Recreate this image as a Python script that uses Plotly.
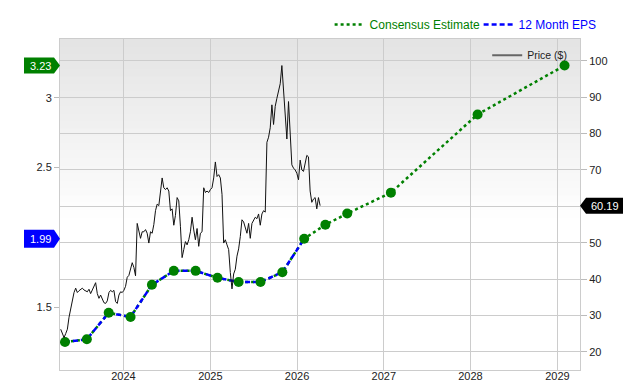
import pandas as pd
import plotly.graph_objects as go

# ---------------- data ----------------
eps_dates = ["2023-04-30", "2023-07-31", "2023-10-31", "2024-01-31", "2024-04-30", "2024-07-31",
             "2024-10-31", "2025-01-31", "2025-04-30", "2025-07-31", "2025-10-31", "2026-01-31"]
eps_values = [1.25, 1.27, 1.46, 1.43, 1.66, 1.76, 1.76, 1.71, 1.68, 1.68, 1.75, 1.99]

est_dates = ["2026-04-30", "2026-07-31", "2027-01-31", "2028-01-31", "2029-01-31"]
est_values = [2.09, 2.17, 2.32, 2.88, 3.23]

price_start = "2023-04-12"
price_values = [
    26.2, 24.8, 23.9, 25.0, 26.2, 29.5, 32.0, 34.2, 36.3, 37.5,
    36.3, 36.8, 37.2, 37.5, 37.0, 36.8, 36.5, 37.2, 36.0, 37.0,
    38.0, 39.0, 36.0, 34.7, 35.6, 34.4, 33.5, 33.3, 34.0, 36.3,
    36.9, 36.5, 36.9, 33.8, 33.3, 35.6, 36.5, 36.3, 36.9, 38.0,
    40.5, 41.0, 42.5, 44.5, 43.2, 40.9, 55.3, 53.0, 51.2, 53.0,
    53.0, 53.6, 52.6, 49.9, 53.0, 52.6, 55.0, 58.8, 60.6, 60.2,
    63.8, 67.8, 65.1, 64.6, 65.1, 64.2, 58.8, 59.3, 54.8, 57.5,
    62.4, 61.5, 54.4, 45.9, 48.1, 50.3, 49.4, 50.8, 53.0, 57.0,
    53.5, 50.8, 53.9, 49.0, 52.6, 53.0, 65.1, 63.8, 64.2, 63.8,
    64.6, 65.1, 67.8, 72.2, 68.2, 68.7, 67.8, 63.3, 49.9, 50.8,
    49.4, 48.1, 41.8, 37.3, 41.4, 42.7, 46.3, 48.3, 51.7, 56.3,
    55.7, 54.4, 52.6, 55.3, 51.2, 55.3, 56.1, 57.0, 56.6, 57.9,
    54.8, 57.9, 58.8, 58.4, 77.6, 79.0, 81.6, 87.9, 82.5, 87.5,
    89.7, 91.9, 93.7, 98.7, 91.0, 84.8, 78.5, 88.8, 79.4, 71.4,
    70.5, 70.0, 69.1, 67.3, 72.7, 70.0, 69.6, 71.4, 74.0, 73.6,
    64.2, 61.1, 62.0, 62.4, 59.3, 62.4, 60.19,
]
price_dates = pd.date_range(price_start, periods=len(price_values), freq="7D")

year_ticks = ["2024-01-01", "2025-01-01", "2026-01-01", "2027-01-01", "2028-01-01", "2029-01-01"]
year_labels = ["2024", "2025", "2026", "2027", "2028", "2029"]
eps_ticks = [1.5, 2, 2.5, 3]
eps_labels = ["1.5", "", "2.5", "3"]          # "2" is hidden behind the 1.99 tag
price_ticks = [20, 30, 40, 50, 60, 70, 80, 90, 100]
price_labels = ["20", "30", "40", "50", "", "70", "80", "90", "100"]  # 60 hidden behind tag

last_price = price_values[-1]
last_eps = eps_values[-1]
last_est = est_values[-1]

GREEN = "#008000"
BLUE = "#0000ff"
FONT = "Liberation Sans, Arial, sans-serif"

all_dates = eps_dates + est_dates
all_values = eps_values + est_values

fig = go.Figure()

# price line
fig.add_trace(go.Scatter(x=price_dates, y=price_values, mode="lines", yaxis="y2",
                         line=dict(color="#111111", width=1), showlegend=False,
                         hoverinfo="skip"))
# price legend entry
fig.add_trace(go.Scatter(x=[None], y=[None], mode="lines", yaxis="y2", name="Price ($)",
                         line=dict(color="#666666", width=2), legend="legend2"))

# consensus dotted line
fig.add_trace(go.Scatter(x=all_dates, y=all_values, mode="lines",
                         line=dict(color=GREEN, width=2.5, dash="dot"),
                         name="<span style='color:#008000'>Consensus Estimate</span>"))
# 12 month EPS dashed line
fig.add_trace(go.Scatter(x=eps_dates, y=eps_values, mode="lines",
                         line=dict(color=BLUE, width=2.5, dash="5px,3px"),
                         name="<span style='color:#0000ff'>12 Month EPS</span>"))
# markers
fig.add_trace(go.Scatter(x=all_dates, y=all_values, mode="markers",
                         marker=dict(color=GREEN, size=10, line=dict(width=0)),
                         showlegend=False))

# gradient background
shapes = []
n = 24
for i in range(n):
    y0 = 0.46 + (1 - 0.46) * i / n
    g = int(round(255 - (255 - 228) * (i + 1) / n))
    shapes.append(dict(type="rect", xref="paper", yref="paper", x0=0, x1=1, y0=y0, y1=1,
                       fillcolor=f"rgb({g},{g},{g})", line=dict(width=0), layer="below"))

# value tags
shapes.append(dict(type="path", xref="paper", yref="y", xsizemode="pixel", ysizemode="pixel",
                   xanchor=0, yanchor=last_est,
                   path="M0,0 L-6,-8 L-36,-8 L-36,8 L-6,8 Z",
                   fillcolor=GREEN, line=dict(width=0), layer="above"))
shapes.append(dict(type="path", xref="paper", yref="y", xsizemode="pixel", ysizemode="pixel",
                   xanchor=0, yanchor=last_eps,
                   path="M0,0 L-6,-9 L-36,-9 L-36,9 L-6,9 Z",
                   fillcolor=BLUE, line=dict(width=0), layer="above"))
shapes.append(dict(type="path", xref="paper", yref="y2", xsizemode="pixel", ysizemode="pixel",
                   xanchor=1, yanchor=last_price,
                   path="M0,0 L6,-8 L43,-8 L43,8 L6,8 Z",
                   fillcolor="#000000", line=dict(width=0), layer="above"))

annotations = [
    dict(xref="paper", yref="y", x=0, y=last_est, xshift=-20, xanchor="center", yanchor="middle",
         text=f"{last_est:.2f}", showarrow=False, font=dict(color="white", size=11, family=FONT)),
    dict(xref="paper", yref="y", x=0, y=last_eps, xshift=-20, xanchor="center", yanchor="middle",
         text=f"{last_eps:.2f}", showarrow=False, font=dict(color="white", size=11, family=FONT)),
    dict(xref="paper", yref="y2", x=1, y=last_price, xshift=25, xanchor="center", yanchor="middle",
         text=f"{last_price:.2f}", showarrow=False, font=dict(color="white", size=11, family=FONT)),
]

fig.update_layout(
    width=640, height=380,
    margin=dict(l=60, r=60, t=31, b=10),
    paper_bgcolor="white", plot_bgcolor="white",
    font=dict(family=FONT, size=11, color="#222222"),
    shapes=shapes, annotations=annotations,
    xaxis=dict(type="date", range=["2023-04-09", "2029-04-06"],
               tickvals=year_ticks, ticktext=year_labels,
               showgrid=True, gridcolor="#cccccc", gridwidth=1,
               showline=True, linecolor="#cccccc", mirror=True,
               ticks="", ticklen=0, ticklabelstandoff=-4,
               automargin=False, zeroline=False,
               tickfont=dict(size=11, color="#222222")),
    yaxis=dict(range=[1.05, 3.42], tickvals=eps_ticks, ticktext=eps_labels,
               showgrid=False, zeroline=False, showline=True, linecolor="#cccccc",
               ticks="outside", ticklen=5, tickcolor="#bbbbbb", automargin=False,
               tickfont=dict(size=11, color="#222222")),
    yaxis2=dict(range=[15, 106], overlaying="y", side="right", tickvals=price_ticks,
                ticktext=price_labels,
                showgrid=True, gridcolor="#cccccc", gridwidth=1, zeroline=False,
                showline=True, linecolor="#cccccc",
                ticks="outside", ticklen=6, tickcolor="#bbbbbb", automargin=False,
                tickfont=dict(size=11, color="#222222")),
    legend=dict(orientation="h", x=0.5185, xanchor="left", y=1.0, yanchor="bottom",
                bgcolor="rgba(0,0,0,0)", font=dict(size=12, family=FONT),
                itemwidth=30, traceorder="normal",
                entrywidth=104, entrywidthmode="pixels"),
    legend2=dict(x=0.985, xanchor="right", y=0.995, yanchor="top",
                 bgcolor="rgba(0,0,0,0)", font=dict(size=10.5, family=FONT, color="#222222"),
                 itemwidth=30),
    hovermode=False,
)

fig.write_html("out.html")
